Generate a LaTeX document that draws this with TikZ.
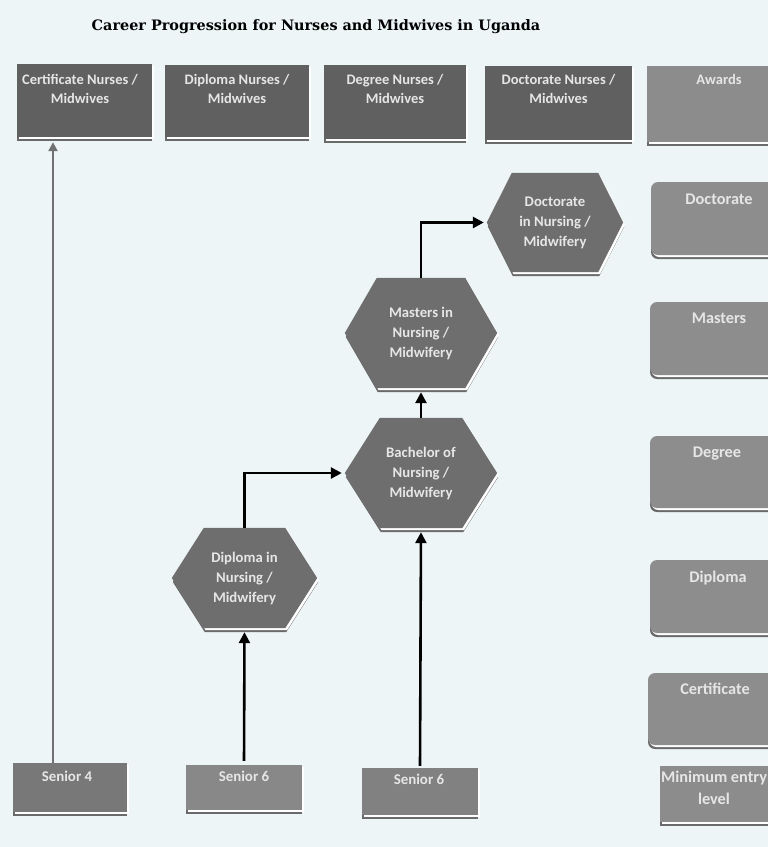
\documentclass[tikz,border=0pt]{standalone}
\usepackage{fontspec}
\setmainfont{Carlito}
\newfontfamily\titlefont{DejaVu Serif}
\usetikzlibrary{shadows,arrows.meta}
\pgfdeclarelayer{shapes}
\pgfsetlayers{shapes,main}
\definecolor{bgc}{HTML}{EDF5F7}
\definecolor{darkg}{HTML}{606060}
\definecolor{lightg}{HTML}{8C8C8C}
\definecolor{hexg}{HTML}{6E6E6E}
\definecolor{awg}{HTML}{8D8D8D}
\definecolor{midg}{HTML}{888888}
\definecolor{shd}{HTML}{6A6A6A}
\definecolor{txtc}{HTML}{E6E6E6}
\definecolor{arrg}{HTML}{707070}
\tikzset{
  boxbase/.style={draw=none, inner sep=0pt,
    drop shadow={shadow xshift=0pt, shadow yshift=-4pt, fill=shd, opacity=1},
    drop shadow={shadow xshift=1.5pt, shadow yshift=-2pt, fill=white, opacity=1}},
  darkbox/.style={boxbase, fill=darkg},
  lightbox/.style={boxbase, fill=lightg},
  awbox/.style={boxbase, fill=awg, rounded corners=7pt},
  txt/.style={text=txtc, font=\bfseries\fontsize{14.5}{19}\selectfont, align=center, inner sep=0pt},
  hextxt/.style={txt, font=\bfseries\fontsize{14.7}{20}\selectfont},
  bottxt/.style={txt, font=\bfseries\fontsize{14.9}{19}\selectfont},
  awtxt/.style={txt, font=\bfseries\fontsize{16.3}{22}\selectfont},
  hexnode/.style={hextxt, draw=none, fill=none},
  arr/.style={-{Triangle[length=11pt,width=11pt]}, line width=2.6pt, draw=black, shorten >=3pt},
  garr/.style={-{Triangle[length=9pt,width=9pt]}, line width=2.2pt, draw=arrg}
}
\newcommand{\hexpath}[2]{(#1.west) -- ([xshift=#2]#1.north west) -- ([xshift=-#2]#1.north east) -- (#1.east) -- ([xshift=-#2]#1.south east) -- ([xshift=#2]#1.south west) -- cycle}
\newcommand{\hexshape}[2]{%
  \begin{pgfonlayer}{shapes}
    \fill[shd, transform canvas={xshift=1pt, yshift=-4pt}] \hexpath{#1}{#2};
    \fill[white, transform canvas={xshift=1.8pt, yshift=-2pt}] \hexpath{#1}{#2};
    \fill[hexg] \hexpath{#1}{#2};
  \end{pgfonlayer}}
\begin{document}
\begin{tikzpicture}[x=1pt,y=-1pt]
\begin{pgfonlayer}{shapes}
  \fill[bgc] (0,0) rectangle (768,847);
\end{pgfonlayer}
\useasboundingbox (0,0) rectangle (768,847);

% title
\node[font=\titlefont\bfseries\fontsize{14.4}{17}\selectfont, inner sep=0pt] (title) at (316,27) {Career Progression for Nurses and Midwives in Uganda};

% top row
\node[darkbox, minimum width=135, minimum height=73] (t1) at (84.5,100.5) {};
\node[txt, anchor=north] (t1l) at (80,74) {Certificate Nurses /\\Midwives};
\node[darkbox, minimum width=144, minimum height=72] (t2) at (237,101) {};
\node[txt, anchor=north] (t2l) at (237,74) {Diploma Nurses /\\Midwives};
\node[darkbox, minimum width=142, minimum height=74] (t3) at (395,102) {};
\node[txt, anchor=north] (t3l) at (395,74) {Degree Nurses /\\Midwives};
\node[darkbox, minimum width=147, minimum height=74] (t4) at (558.5,103) {};
\node[txt, anchor=north] (t4l) at (558.5,74) {Doctorate Nurses /\\Midwives};
\node[lightbox, minimum width=140, minimum height=76] (t5) at (717,104) {};
\node[txt, anchor=north] (t5l) at (719,74) {Awards};

% hexagons
\node[hexnode, minimum width=136, minimum height=99] (hdoc) at (555,222.5) {Doctorate\\in Nursing /\\Midwifery};
\hexshape{hdoc}{25}
\node[hexnode, minimum width=152, minimum height=110] (hmas) at (421,333) {Masters in\\Nursing /\\Midwifery};
\hexshape{hmas}{32}
\node[hexnode, minimum width=152, minimum height=110] (hbac) at (421,473) {Bachelor of\\Nursing /\\Midwifery};
\hexshape{hbac}{35}
\node[hexnode, minimum width=145, minimum height=100] (hdip) at (244.5,578) {Diploma in\\Nursing /\\Midwifery};
\hexshape{hdip}{32}

% awards column
\node[awbox, minimum width=140, minimum height=73] (a1) at (721,218.5) {};
\node[awtxt, anchor=north] (a1l) at (719,194) {Doctorate};
\node[awbox, minimum width=140, minimum height=73] (a2) at (720,338.5) {};
\node[awtxt, anchor=north] (a2l) at (719,313) {Masters};
\node[awbox, minimum width=140, minimum height=72] (a3) at (720,472) {};
\node[awtxt, anchor=north] (a3l) at (717,447) {Degree};
\node[awbox, minimum width=140, minimum height=73] (a4) at (720,596.5) {};
\node[awtxt, anchor=north] (a4l) at (718,571) {Diploma};
\node[awbox, minimum width=142, minimum height=72] (a5) at (719,709) {};
\node[awtxt, anchor=north] (a5l) at (715,683) {Certificate};
\node[lightbox, minimum width=130, minimum height=56] (a6) at (725,794) {};
\node[awtxt, anchor=north] (a6l) at (714,771) {Minimum entry\\level};

% bottom row
\node[darkbox, fill=darkg!85!white, minimum width=114, minimum height=49] (b1) at (70,787.5) {};
\node[bottxt, anchor=north] (b1l) at (67,771) {Senior 4};
\node[darkbox, fill=midg, minimum width=116, minimum height=45] (b2) at (244,787.5) {};
\node[bottxt, anchor=north] (b2l) at (244,771) {Senior 6};
\node[darkbox, fill=midg!95!black, minimum width=116, minimum height=47] (b3) at (420,791.5) {};
\node[bottxt, anchor=north] (b3l) at (419,774) {Senior 6};

% connectors
\draw[garr] (b1.north -| 53,0) -- ([yshift=-5pt]t1.south -| 53,0);
\draw[arr, shorten <=4pt, shorten >=4pt] (b2.north) -- (hdip.south);
\draw[arr] (hdip.north) |- (hbac.west);
\draw[arr, shorten <=2pt, shorten >=4pt] (b3.north) -- (hbac.south);
\draw[arr, shorten >=4pt] (hbac.north) -- (hmas.south);
\draw[arr] (hmas.north) |- (hdoc.west);
\end{tikzpicture}
\end{document}
